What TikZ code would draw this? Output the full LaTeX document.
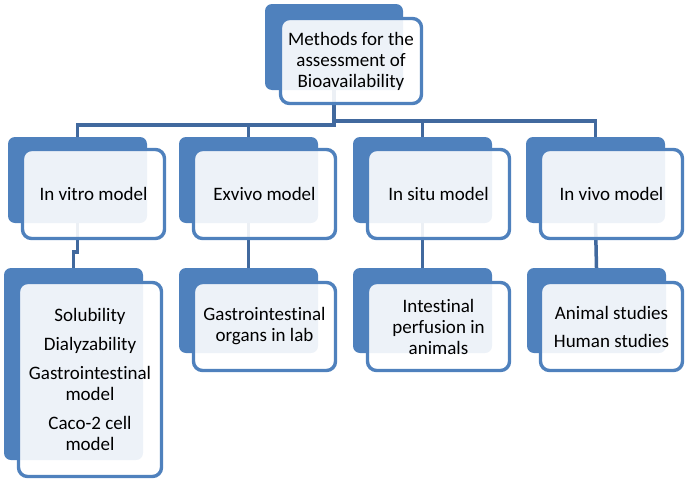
\documentclass[tikz,border=0pt]{standalone}
\usepackage{fontspec}
\setmainfont{Carlito}[Ligatures={NoCommon}]
\definecolor{boxblue}{HTML}{4F81BD}
\definecolor{linkblue}{HTML}{41699E}
\tikzset{
	backbox/.style={fill=boxblue, rounded corners=7pt, inner sep=0pt, minimum width=139pt, minimum height=86pt},
	frontbox/.style={draw=boxblue, line width=3.4pt, fill=white, fill opacity=0.9, text opacity=1, rounded corners=9pt, inner sep=0pt, minimum width=142pt, minimum height=89pt, align=center, font=\fontsize{19}{21}\selectfont},
	link/.style={draw=linkblue, line width=3.5pt}
}

\begin{document}
\begin{tikzpicture}[x=1pt, y=-1pt]
		%%%%% START %%%%%
		\useasboundingbox (0, 0) rectangle (685, 479);
		
		% back boxes
		\node[backbox, minimum width=138pt] (methods) at (334, 47) {};
		\node[backbox] (vitro) at (77.5, 180) {};
		\node[backbox] (exvivo) at (248.5, 180) {};
		\node[backbox] (situ) at (422.5, 180) {};
		\node[backbox] (vivo) at (595.5, 180) {};
		
		\node[backbox, minimum height=192pt] (vitrosub) at (73.5, 364) {};
		\node[backbox, minimum height=85pt] (exvivosub) at (248.5, 310.5) {};
		\node[backbox, minimum height=85pt] (situsub) at (422.5, 310.5) {};
		\node[backbox, minimum height=85pt] (vivosub) at (596.5, 310.5) {};
		
		% connectors
		\draw[link] (methods.south) -- ++(0, 35) -| (vitro.north);
		\draw[link] (methods.south) -- ++(0, 35) -| (exvivo.north);
		\draw[link] (methods.south) -- ++(0, 31) -| (situ.north);
		\draw[link] (methods.south) -- ++(0, 31) -| (vivo.north);
		
		\draw[link] (vitro.south) -- ++(0, 29) -| (vitrosub.north);
		\draw[link] (exvivo.south) -- (exvivosub.north);
		\draw[link] (situ.south) -- (situsub.north);
		\draw[link] (vivo.south) -- (vivosub.north);
		
		% front boxes
		\node[frontbox, minimum width=141pt, minimum height=85pt] (methodsF) at (351, 61) {Methods for the\\assessment of\\Bioavailability};
		\node[frontbox] (vitroF) at (93.5, 194) {In vitro model};
		\node[frontbox] (exvivoF) at (264.5, 194) {Exvivo model};
		\node[frontbox] (situF) at (438.5, 194) {In situ model};
		\node[frontbox] (vivoF) at (611.5, 194) {In vivo model};
		
		\node[frontbox, minimum width=143pt, minimum height=194pt] (vitrosubF) at (90, 379.5) {Solubility\\[8pt]Dialyzability\\[8pt]Gastrointestinal\\model\\[8pt]Caco-2 cell\\model};
		\node[frontbox, minimum height=88pt] (exvivosubF) at (264.5, 326.5) {Gastrointestinal\\organs in lab};
		\node[frontbox, minimum height=88pt] (situsubF) at (438.5, 326.5) {Intestinal\\perfusion in\\animals};
		\node[frontbox, minimum height=88pt] (vivosubF) at (611.5, 326.5) {Animal studies\\[7pt]Human studies};
		
		%%%%% END %%%%%
	\end{tikzpicture}
\end{document}
